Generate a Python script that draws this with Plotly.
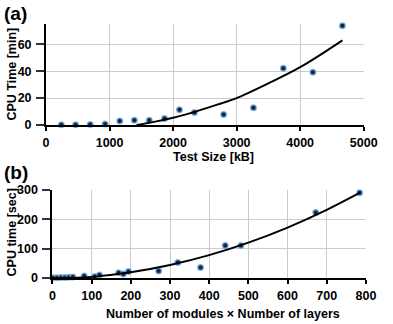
import plotly.graph_objects as go

# ---- Panel (a) data ----
test_size_kb = [240, 465, 695, 930, 1160, 1390, 1625, 1865, 2100, 2335, 2795, 3265, 3735, 4200, 4665]
cpu_time_min = [0.2, 0.2, 0.3, 0.8, 2.9, 3.5, 3.5, 4.8, 11.4, 9.3, 7.8, 12.8, 42.2, 39.2, 73.8]
trend_a_x = [1425, 1700, 2000, 2375, 2750, 3000, 3500, 4000, 4665]
trend_a_y = [0, 2.3, 5.4, 10.3, 16.0, 20.0, 31.0, 43.0, 63.0]

# ---- Panel (b) data ----
modules_x_layers = [2, 12, 22, 32, 42, 52, 81, 108, 120, 169, 181, 194, 271, 320, 378, 441, 481, 672, 784]
cpu_time_sec = [1, 1, 1.5, 2, 3, 4, 7, 5, 10, 18, 14, 22, 24, 53, 36, 111, 111, 223, 290]
trend_b_x = [0, 50, 100, 200, 300, 400, 500, 600, 700, 785]
trend_b_y = [0, 0.5, 4, 19.7, 44.3, 77.8, 120.3, 171.5, 231.7, 290]

a_xticks = [0, 1000, 2000, 3000, 4000, 5000]
a_yticks = [0, 20, 40, 60]
b_xticks = [0, 100, 200, 300, 400, 500, 600, 700, 800]
b_yticks = [0, 100, 200, 300]

FONT = "Liberation Sans"
tickfont = dict(family=FONT, size=12.5, color="black", weight="bold")
marker = dict(size=5.5, color="#0c2748", line=dict(width=1.5, color="rgba(110,165,220,0.75)"))

fig = go.Figure()
fig.add_trace(go.Scatter(x=test_size_kb, y=cpu_time_min, mode="markers", marker=marker,
                         xaxis="x", yaxis="y", cliponaxis=False, showlegend=False))
fig.add_trace(go.Scatter(x=trend_a_x, y=trend_a_y, mode="lines", line=dict(color="black", width=2, shape="spline"),
                         xaxis="x", yaxis="y", showlegend=False))
fig.add_trace(go.Scatter(x=modules_x_layers, y=cpu_time_sec, mode="markers", marker=marker,
                         xaxis="x2", yaxis="y2", cliponaxis=False, showlegend=False))
fig.add_trace(go.Scatter(x=trend_b_x, y=trend_b_y, mode="lines", line=dict(color="black", width=2, shape="spline"),
                         xaxis="x2", yaxis="y2", showlegend=False))

W, H = 393, 324
def px_x(p): return p / W
def px_y(p): return (H - p) / H

xcommon = dict(showgrid=True, gridcolor="#cccccc", gridwidth=1, showline=True, linecolor="black", linewidth=2,
               ticks="outside", ticklen=4, tickwidth=1.5, tickcolor="black", tickfont=tickfont, zeroline=False,
               ticklabelstandoff=1)
ycommon = dict(showgrid=True, gridcolor="#cccccc", gridwidth=1, showline=True, linecolor="black", linewidth=2,
               ticks="outside", ticklen=8, tickwidth=1.5, tickcolor="#333333", tickfont=tickfont, zeroline=False,
               ticklabelstandoff=2)

fig.update_layout(
    width=W, height=H, margin=dict(l=0, r=0, t=0, b=0),
    paper_bgcolor="white", plot_bgcolor="white",
    xaxis=dict(domain=[px_x(45), px_x(377)], range=[0, 5000], tickvals=a_xticks, anchor="y", **xcommon),
    yaxis=dict(domain=[px_y(123.3), px_y(18)], range=[0, 75], tickvals=a_yticks, anchor="x", **ycommon),
    xaxis2=dict(domain=[px_x(51.7), px_x(379.3)], range=[0, 800], tickvals=b_xticks, anchor="y2", **xcommon),
    yaxis2=dict(domain=[px_y(283.3), px_y(191)], range=[0, 300], tickvals=b_yticks, anchor="x2", **ycommon),
)

title_font = dict(family=FONT, size=12.5, color="black", weight="bold")
label_font = dict(family=FONT, size=19, color="black", weight="bold")
ann = [
    dict(text="(a)", x=px_x(0), y=px_y(-5), xanchor="left", yanchor="top", font=label_font),
    dict(text="(b)", x=px_x(0), y=px_y(161), xanchor="left", yanchor="top", font=label_font),
    dict(text="Test Size [kB]", x=px_x(220), y=px_y(157), xanchor="center", yanchor="middle", font=title_font),
    dict(text="Number of modules × Number of layers", x=px_x(230), y=px_y(329), xanchor="center", yanchor="bottom", font=title_font),
    dict(text="CPU Time [min]", x=px_x(9), y=px_y(70), xanchor="center", yanchor="middle", textangle=-90, font=title_font),
    dict(text="CPU time [sec]", x=px_x(9), y=px_y(236), xanchor="center", yanchor="middle", textangle=-90, font=title_font),
]
for a in ann:
    a.update(xref="paper", yref="paper", showarrow=False, borderpad=0)
fig.update_layout(annotations=ann)

fig.write_html("out.html")
